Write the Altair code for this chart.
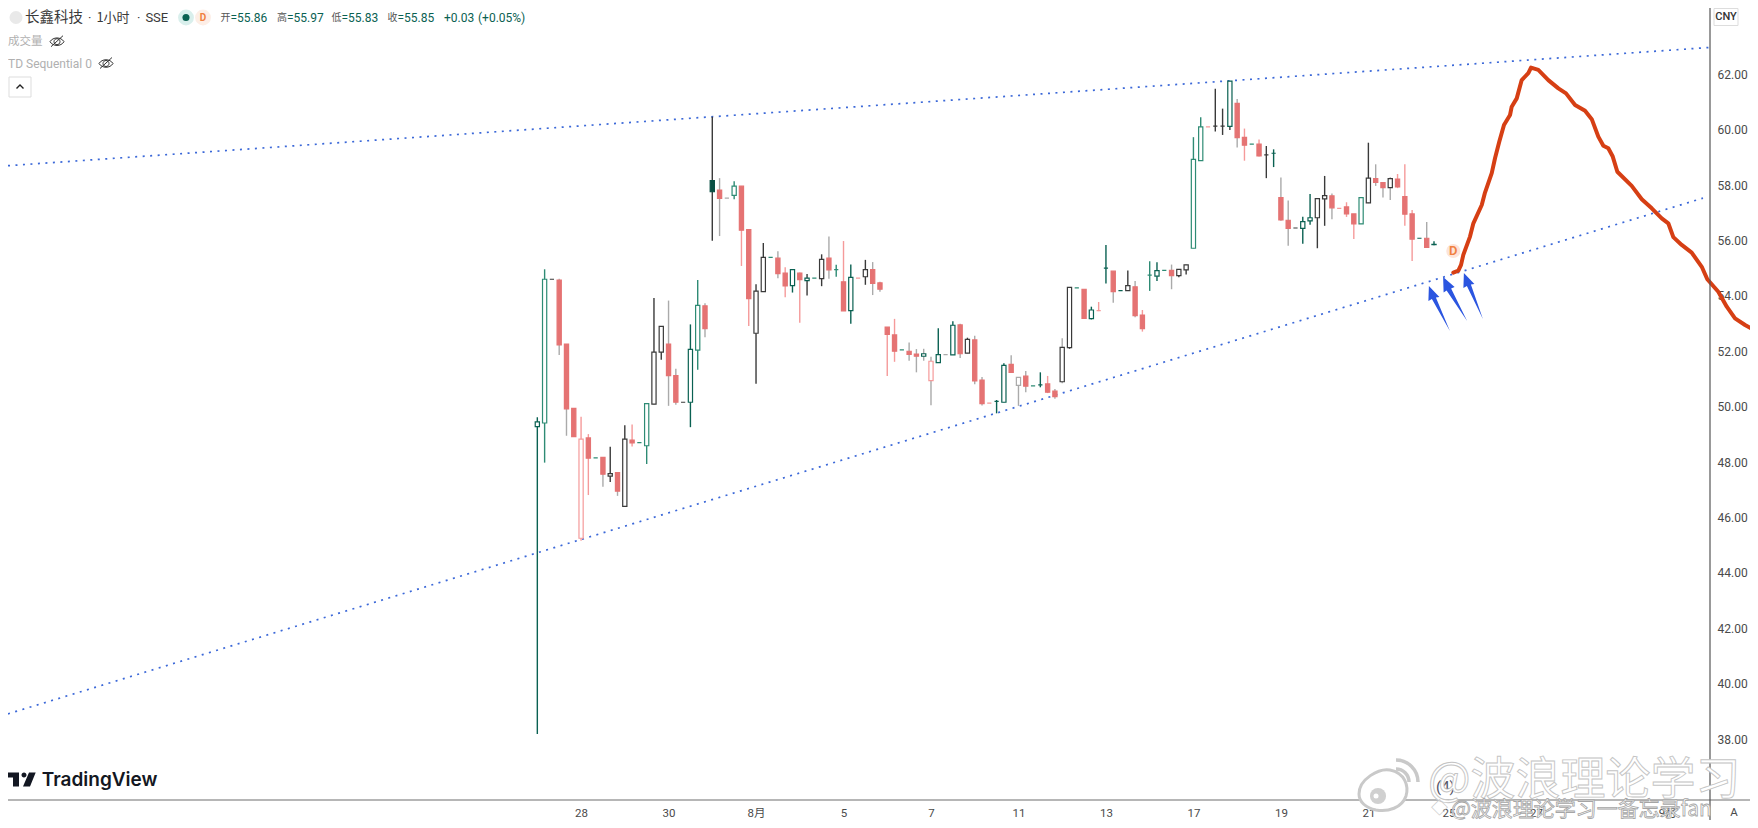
import altair as alt
import pandas as pd

# ---- candle series (hourly, price in CNY) ----
opens = [49.28,49.41,54.60,54.57,52.26,49.94,45.25,48.87,48.15,48.17,
         47.49,47.62,46.40,48.79,48.70,48.59,50.09,51.97,52.26,51.12,
         50.16,50.16,52.04,53.64,58.16,57.82,57.53,57.63,57.96,56.39,
         52.65,54.15,55.39,55.36,54.82,54.37,54.82,54.55,54.64,54.62,
         55.36,54.95,54.51,53.47,54.64,54.69,54.95,54.47,52.87,52.59,
         52.05,52.00,51.90,51.82,50.94,51.59,51.88,51.87,52.95,51.93,
         52.41,50.96,50.13,50.19,50.16,51.53,50.77,51.10,50.75,50.79,
         50.82,50.56,50.90,52.13,54.29,54.24,53.18,53.47,55.00,54.89,
         54.19,54.19,54.33,53.31,54.75,54.71,54.92,54.92,54.73,54.94,
         55.72,58.88,60.10,60.13,60.13,60.12,60.95,59.72,59.48,59.48,
         59.09,59.15,57.55,56.73,56.45,56.44,56.71,56.82,57.50,57.61,
         57.16,57.21,56.96,56.60,57.36,58.23,58.09,57.91,58.22,57.58,
         56.96,56.08,56.08,55.86]
highs = [49.62,54.96,54.60,54.62,52.26,49.94,49.64,49.01,48.15,48.17,
         48.55,47.62,49.33,49.36,48.70,50.11,53.92,52.90,53.83,51.37,
         50.16,52.97,54.57,53.73,60.47,58.25,57.53,58.14,57.96,56.39,
         54.42,55.91,55.39,55.61,55.03,54.95,54.84,54.79,54.64,55.50,
         56.14,55.12,55.98,55.13,54.64,55.30,55.22,54.51,52.87,53.17,
         52.05,52.32,52.08,52.09,51.80,52.83,51.88,53.08,52.99,52.49,
         52.56,51.07,50.13,50.24,51.57,51.86,51.06,51.29,50.75,51.24,
         51.11,50.64,52.47,54.31,54.29,54.24,53.61,53.78,55.84,54.89,
         54.19,54.92,54.54,53.49,55.25,55.21,54.92,55.13,54.96,55.12,
         59.73,60.45,60.10,61.48,60.76,61.75,61.11,60.04,59.48,59.65,
         59.41,59.29,58.27,57.44,56.45,56.86,57.68,57.51,58.33,57.70,
         57.16,57.38,56.96,57.55,59.53,58.75,58.09,58.28,58.40,58.75,
         57.10,56.08,56.67,55.97]
lows = [38.18,47.98,54.60,51.87,48.95,48.92,45.16,46.81,48.15,47.11,
        47.28,46.78,46.40,48.56,48.70,47.93,50.09,51.69,50.03,50.07,
        50.16,49.26,51.33,52.51,55.99,56.16,57.53,57.49,55.08,52.91,
        50.83,54.15,55.39,54.64,53.95,54.12,53.03,54.01,54.64,54.35,
        54.62,54.69,53.46,52.99,54.64,54.40,54.03,54.15,51.11,51.62,
        52.05,51.66,51.24,51.66,50.05,51.59,51.88,51.87,51.76,51.93,
        50.81,50.04,50.13,49.76,50.16,51.22,50.03,50.52,50.75,50.70,
        50.49,50.29,50.85,52.09,54.29,53.17,53.15,53.45,54.45,53.75,
        54.19,54.18,53.23,52.71,54.18,54.54,54.92,54.24,54.67,54.77,
        55.72,58.88,60.10,59.93,59.81,59.99,59.36,58.88,59.48,59.03,
        58.25,58.65,56.71,55.81,56.45,55.88,56.57,55.72,56.53,56.77,
        57.16,56.85,56.05,56.60,57.35,57.97,57.55,57.46,57.89,56.53,
        55.26,56.08,55.74,55.83]
closes = [49.45,54.60,54.60,52.23,49.92,48.92,48.83,48.14,48.15,47.56,
          47.58,46.95,48.83,48.69,48.70,50.11,51.97,52.90,51.12,50.16,
          50.16,52.07,53.66,52.82,57.76,57.52,57.53,57.96,56.37,53.90,
          54.17,55.39,55.39,54.80,54.36,54.95,54.59,54.64,54.64,55.32,
          54.94,54.95,53.46,54.67,54.64,54.95,54.45,54.24,52.61,52.00,
          52.05,51.89,51.82,51.91,51.64,51.88,51.88,52.94,51.91,52.43,
          50.93,50.11,50.13,50.19,51.49,51.24,51.06,50.74,50.75,50.79,
          50.52,50.36,52.14,54.31,54.29,53.19,53.49,53.47,55.00,54.15,
          54.19,54.37,53.29,52.82,54.75,54.91,54.92,54.73,54.96,55.12,
          58.93,60.10,60.10,60.13,60.13,61.75,59.71,59.44,59.48,59.05,
          59.09,59.15,56.74,56.44,56.45,56.68,56.82,57.51,57.62,57.18,
          57.16,56.96,56.60,57.55,58.25,58.10,57.91,58.23,57.93,56.95,
          56.05,56.08,55.75,55.85]
body_tones = list("dgkrrrprgr" "krkrggkkrr" "kdgrDragrr" "kkgrrdrdgk"
                  "rgrdpkrrrr" "grrdpdadrk" "rrpddrargd" "rrkkgrdpdr"
                  "dkrrgdgrkk" "ggpkkdrrgr" "kdrrkddkkr" "prrgkrrkrr" "rdrd")
wick_tones = list("dgkaaappga" "kakpggkkaa" "kdgakaagpp" "kkgapdpkgk"
                  "agpdpkaapp" "gaaaadadak" "aapddaaagd" "paakgadpda"
                  "dkapgdgakk" "ggpkkkapgp" "kdaakddkka" "pppgkaaapp" "pdad")

# ---- trend lines ----
upper_idx = [-72.61, 160.86]
upper_price = [58.70, 62.97]
lower_idx = [-72.61, 159.9]
lower_price = [38.91, 57.53]

# ---- hand-drawn projection ----
curve_idx = [125.65,126.34,126.71,127.02,127.94,128.40,129.55,129.96,130.92,131.37,
             131.96,132.60,133.43,133.66,134.35,135.03,135.94,136.31,137.31,138.68,
             140.06,141.11,142.35,143.72,144.64,145.54,146.23,146.91,147.52,148.15,
             150.12,151.50,152.87,154.24,155.14,155.83,156.98,158.35,159.73,160.49,
             162.00,163.16,164.29,165.67,166.59,167.27,167.45]
curve_price = [54.84,54.91,55.12,55.48,56.14,56.62,57.28,57.70,58.43,58.97,
               59.57,60.17,60.53,60.83,61.13,61.79,62.04,62.24,62.16,61.79,
               61.49,61.31,60.89,60.68,60.38,59.75,59.42,59.33,59.03,58.48,
               57.97,57.49,57.16,56.80,56.62,56.12,55.84,55.56,55.05,54.60,
               54.15,53.61,53.19,52.95,52.81,52.47,52.35]

# ---- arrows (tips) and D marker ----
arrow_idx = [122.3, 124.25, 127.1]
arrow_price = [54.36, 54.68, 54.83]
marker_idx = [125.65]
marker_price = [55.62]

# ---- axes ----
tick_idx = [6, 18, 30, 42, 54, 66, 78, 90, 102, 114, 125, 137, 155]
tick_labels = ["28", "30", "8月", "5", "7", "11", "13", "17", "19", "21", "25", "27", "9月"]
price_ticks = [38, 40, 42, 44, 46, 48, 50, 52, 54, 56, 58, 60, 62]

tone_domain = ["g", "d", "k", "a", "p", "r", "D", "w"]
tone_range = ["#2e8b74", "#0a6152", "#3a3a3a", "#aaaaaa", "#f59a9a", "#e57373", "#0a4f44", "#ffffff"]
tone_scale = alt.Scale(domain=tone_domain, range=tone_range)

FONT = "Roboto, 'Noto Sans CJK SC', sans-serif"
CJK = "'Noto Sans CJK SC', sans-serif"

df = pd.DataFrame({"i": list(range(len(opens))), "open": opens, "high": highs, "low": lows,
                   "close": closes, "body": body_tones, "wick": wick_tones})
df["fill"] = ["r" if b == "r" else ("D" if b == "D" else "w") for b in body_tones]

x_scale = alt.Scale(domain=[-72.61, 160.86], nice=False, zero=False, padding=0)
y_scale = alt.Scale(domain=[35.80, 64.393], nice=False, zero=False, padding=0)
expr = "[" + ",".join(f"'{t}'" for t in tick_labels) + "][indexof([" + ",".join(map(str, tick_idx)) + "],datum.value)]"
x_axis = alt.Axis(values=tick_idx, labelExpr=expr, title=None, grid=False, ticks=False, domain=False,
                  labelFont=FONT, labelFontSize=11.5, labelColor="#4a4a4a", labelPadding=7,
                  labelOverlap=False, labelBound=False, labelFlush=False)
y_axis = alt.Axis(orient="right", values=price_ticks, format=".2f", title=None, grid=False, ticks=False,
                  domain=False, labelFont=FONT, labelFontSize=12, labelColor="#4a4a4a", labelPadding=7,
                  labelOverlap=False, labelBound=False, labelFlush=False)
X = lambda f: alt.X(f, scale=x_scale, axis=x_axis)
Y = lambda f: alt.Y(f, scale=y_scale, axis=y_axis)

layers = []

def series_line(xs, ys, **mark):
    d = pd.DataFrame({"i": xs, "p": ys})
    return alt.Chart(d).mark_line(**mark).encode(X("i:Q"), Y("p:Q"), order="i:Q")

dots = dict(color="#3b68d8", strokeWidth=1.7, strokeDash=[2, 5.5])
layers.append(series_line(upper_idx, upper_price, **dots))
layers.append(series_line(lower_idx, lower_price, **dots))

layers.append(alt.Chart(df).mark_rule(strokeWidth=1.4).encode(
    X("i:Q"), Y("low:Q"), alt.Y2("high:Q"),
    stroke=alt.Stroke("wick:N", scale=tone_scale, legend=None)))
layers.append(alt.Chart(df).mark_bar(size=4.2, strokeWidth=1.2).encode(
    X("i:Q"), Y("open:Q"), alt.Y2("close:Q"),
    fill=alt.Fill("fill:N", scale=tone_scale, legend=None),
    stroke=alt.Stroke("body:N", scale=tone_scale, legend=None)))

# D marker
md = pd.DataFrame({"i": marker_idx, "p": marker_price, "t": ["D"]})
layers.append(alt.Chart(md).mark_point(filled=True, size=200, color="#fde4d8", opacity=1).encode(X("i:Q"), Y("p:Q")))
layers.append(alt.Chart(md).mark_text(font=FONT, fontSize=13, fontWeight=600, color="#f0803f").encode(X("i:Q"), Y("p:Q"), text="t:N"))

# blue arrows
arrow_paths = ["M0,0L10.5,11L7,11.5L21,45L3,13L-0.5,15Z",
               "M0,0L11.5,10L8,11.5L24,44L3.5,13.5L0.5,15.5Z",
               "M0,0L10.5,11L7,11.5L19,46L3,13L-0.5,15Z"]
for ax, ap, path in zip(arrow_idx, arrow_price, arrow_paths):
    a = pd.DataFrame({"i": [ax], "p": [ap]})
    layers.append(alt.Chart(a).mark_point(shape=path, filled=True, size=4, color="#2b55e0", opacity=1).encode(X("i:Q"), Y("p:Q")))

# projection
layers.append(series_line(curve_idx, curve_price, color="#d63f14", strokeWidth=4, strokeJoin="round", strokeCap="round"))

one = pd.DataFrame({"a": [0]})

def px(v):
    return alt.value(v - 8)

def text(s, x, y, size=12, color="#333333", font=FONT, align="left", baseline="middle", **kw):
    return alt.Chart(one).mark_text(text=s, font=font, fontSize=size, color=color, align=align, baseline=baseline, **kw).encode(x=px(x), y=px(y))

def glyph(path_or_name, x, y, size=4, **kw):
    return alt.Chart(one).mark_point(shape=path_or_name, size=size, opacity=1, **kw).encode(x=px(x), y=px(y))

def rule_h(x1, x2, y, color, width=1):
    return alt.Chart(one).mark_rule(color=color, strokeWidth=width).encode(x=px(x1), x2=px(x2), y=px(y))

def rule_v(x, y1, y2, color, width=1):
    return alt.Chart(one).mark_rule(color=color, strokeWidth=width).encode(x=px(x), y=px(y1), y2=px(y2))

layers += [rule_h(8, 1750, 800, "#6f6f6f", 1.2), rule_v(1710, 8, 820, "#555555", 1.2)]

# header
EYE = "M-7,0C-4,-5 4,-5 7,0C4,5 -4,5 -7,0ZM-3,0A3,3 0 1,0 3,0A3,3 0 1,0 -3,0ZM-6,5L6,-6"
GREEN = "#0a6152"
layers += [
    glyph("circle", 16, 17.5, size=170, filled=True, color="#e9e9e9"),
    text("长鑫科技", 25, 17.5, size=14.5, color="#3a3a3a", font=CJK),
    text("·", 88, 17.5, size=13, color="#3a3a3a"),
    text("1小时", 96.4, 17.5, size=13, color="#3a3a3a", font=CJK),
    text("·", 137, 17.5, size=13, color="#3a3a3a"),
    text("SSE", 145.4, 17.5, size=13, color="#3a3a3a"),
    glyph("circle", 186, 17.5, size=250, filled=True, color="#d9efec"),
    glyph("circle", 186, 17.5, size=50, filled=True, color=GREEN),
    glyph("circle", 203, 17.5, size=250, filled=True, color="#fdeee6"),
    text("D", 203, 17.5, size=10, color="#f0803f", font=FONT, align="center", fontWeight=700),
]
for lab, val, x0 in [("开", "=55.86", 220.5), ("高", "=55.97", 277), ("低", "=55.83", 331.5), ("收", "=55.85", 387.5)]:
    layers += [text(lab, x0, 17.5, size=10, color="#555555", font=CJK), text(val, x0 + 10, 17.5, size=12, color=GREEN)]
layers += [
    text("+0.03", 444, 17.5, size=12, color=GREEN),
    text("(+0.05%)", 478, 17.5, size=12, color=GREEN),
    text("成交量", 8, 41.7, size=11.5, color="#b0b0b0", font=CJK),
    glyph(EYE, 57, 41.7, filled=False, stroke="#333333", strokeWidth=1),
    text("TD Sequential 0", 8, 63.5, size=12, color="#b0b0b0"),
    glyph(EYE, 106, 63.5, filled=False, stroke="#333333", strokeWidth=1),
    glyph("M-11,-10L11,-10L11,10L-11,10Z", 20, 87, filled=False, stroke="#dddddd", strokeWidth=1),
    glyph("M-3.5,1.5L0,-2L3.5,1.5", 20, 87, filled=False, stroke="#222222", strokeWidth=1.4),
]

# price-scale furniture
layers += [
    glyph("M-12,-8.5L12,-8.5L12,8.5L-12,8.5Z", 1726, 17, filled=False, stroke="#dddddd", strokeWidth=1),
    text("CNY", 1726, 17, size=11, color="#333333", align="center", fontWeight=500),
    text("A", 1734, 813, size=11.5, color="#4a4a4a", align="center"),
]

# brand
TV = ("M0,0L11,0L11,14L5,14L5,5L0,5Z"
      "M13.5,2.5A2.5,2.5 0 1,0 18.5,2.5A2.5,2.5 0 1,0 13.5,2.5Z"
      "M21,0L27.7,0L22,14L15,14Z")
layers += [
    glyph(TV, 8, 772.5, filled=True, color="#131722"),
    text("TradingView", 41.7, 780, size=19, color="#131722", font="Inter, sans-serif", fontWeight=600),
]

# watermark
BODY = "M-25,4C-25,-11 -5,-22 6,-20C21,-17 25,-4 22,6C18,18 4,22 -8,20C-18,18 -25,12 -25,4Z"
WAVES = "M4,-26A22,22 0 0 1 26,-4M4,-17A13,13 0 0 1 17,-4"
layers += [
    glyph(BODY, 1384, 790, filled=True, color="#ffffff", stroke="#c9c9c9", strokeWidth=3),
    glyph("circle", 1378, 796, size=260, filled=True, color="#d0d0d0"),
    glyph("circle", 1376, 796, size=25, filled=True, color="#ffffff"),
    glyph(WAVES, 1392, 786, filled=False, stroke="#c9c9c9", strokeWidth=3.5),
    text("(4)", 1436, 787, size=15, color="#555566"),
    text("@波浪理论学习", 1428, 781, size=45, color="#ffffff", font=CJK, stroke="#c4c4c4", strokeWidth=0.9),
    text("◇", 1431, 809, size=17, color="#c9c9c9", font=CJK),
    text("@波浪理论学习一备忘录fan", 1451, 810, size=21, color="#ffffff", font=CJK, stroke="#a5a5a5", strokeWidth=0.8),
]

chart = alt.layer(*layers).resolve_scale(x="shared", y="shared").properties(
    width=1702, height=792,
    padding={"left": 0, "top": 0, "right": 40, "bottom": 20},
    autosize=alt.AutoSizeParams(type="none"),
    background="#ffffff",
).configure_view(stroke=None)

chart.save("out.html", embed_options={"renderer": "svg", "actions": False})
